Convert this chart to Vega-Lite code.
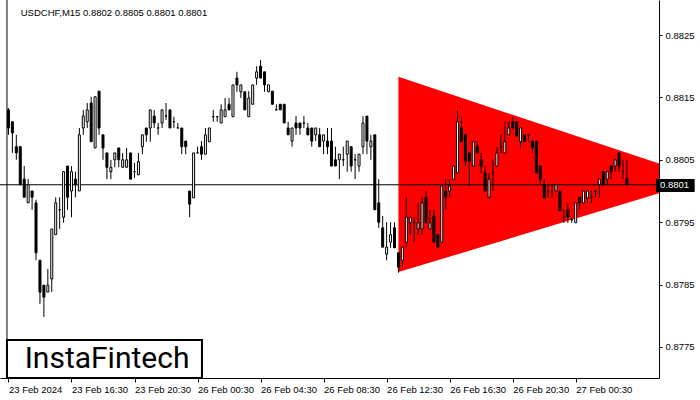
{
  "$schema": "https://vega.github.io/schema/vega-lite/v6.json",
  "width": 659,
  "height": 378,
  "autosize": "none",
  "padding": {"left": 0, "top": 0, "right": 41, "bottom": 22},
  "background": "white",
  "config": {"view": {"stroke": null}, "font": "Liberation Sans"},
  "datasets": {
    "tri": [
      {"i": 99, "top": 0.88183, "bot": 0.87870},
      {"i": 177.1, "top": 0.88019, "bot": 0.88019}
    ],
    "candles": [
      {"i":0,"o":0.88130,"h":0.88133,"l":0.88090,"c":0.88101},
      {"i":1,"o":0.88111,"h":0.88111,"l":0.88061,"c":0.88093},
      {"i":2,"o":0.88071,"h":0.88090,"l":0.88050,"c":0.88061},
      {"i":3,"o":0.88071,"h":0.88071,"l":0.88010,"c":0.88010},
      {"i":4,"o":0.88019,"h":0.88040,"l":0.87990,"c":0.87990},
      {"i":5,"o":0.87981,"h":0.88019,"l":0.87981,"c":0.88010},
      {"i":6,"o":0.88000,"h":0.88000,"l":0.87970,"c":0.87990},
      {"i":7,"o":0.87981,"h":0.87986,"l":0.87889,"c":0.87901},
      {"i":8,"o":0.87889,"h":0.87889,"l":0.87819,"c":0.87838},
      {"i":9,"o":0.87849,"h":0.87849,"l":0.87798,"c":0.87830},
      {"i":10,"o":0.87838,"h":0.87875,"l":0.87838,"c":0.87849},
      {"i":11,"o":0.87859,"h":0.87939,"l":0.87838,"c":0.87939},
      {"i":12,"o":0.87930,"h":0.87990,"l":0.87930,"c":0.87981},
      {"i":13,"o":0.87970,"h":0.87990,"l":0.87939,"c":0.87970},
      {"i":14,"o":0.87958,"h":0.88031,"l":0.87949,"c":0.88031},
      {"i":15,"o":0.88040,"h":0.88040,"l":0.87970,"c":0.87990},
      {"i":16,"o":0.88000,"h":0.88040,"l":0.87958,"c":0.88031},
      {"i":17,"o":0.88019,"h":0.88031,"l":0.87990,"c":0.88010},
      {"i":18,"o":0.88000,"h":0.88101,"l":0.88000,"c":0.88090},
      {"i":19,"o":0.88101,"h":0.88130,"l":0.88090,"c":0.88120},
      {"i":20,"o":0.88111,"h":0.88141,"l":0.88101,"c":0.88130},
      {"i":21,"o":0.88141,"h":0.88151,"l":0.88079,"c":0.88079},
      {"i":22,"o":0.88069,"h":0.88151,"l":0.88069,"c":0.88151},
      {"i":23,"o":0.88160,"h":0.88160,"l":0.88090,"c":0.88101},
      {"i":24,"o":0.88090,"h":0.88090,"l":0.88050,"c":0.88069},
      {"i":25,"o":0.88061,"h":0.88061,"l":0.88019,"c":0.88038},
      {"i":26,"o":0.88031,"h":0.88050,"l":0.88019,"c":0.88038},
      {"i":27,"o":0.88050,"h":0.88061,"l":0.88038,"c":0.88061},
      {"i":28,"o":0.88069,"h":0.88069,"l":0.88038,"c":0.88050},
      {"i":29,"o":0.88038,"h":0.88061,"l":0.88038,"c":0.88050},
      {"i":30,"o":0.88038,"h":0.88069,"l":0.88038,"c":0.88050},
      {"i":31,"o":0.88061,"h":0.88061,"l":0.88019,"c":0.88019},
      {"i":32,"o":0.88031,"h":0.88045,"l":0.88021,"c":0.88031},
      {"i":33,"o":0.88026,"h":0.88061,"l":0.88026,"c":0.88047},
      {"i":34,"o":0.88071,"h":0.88090,"l":0.88059,"c":0.88090},
      {"i":35,"o":0.88101,"h":0.88101,"l":0.88079,"c":0.88090},
      {"i":36,"o":0.88101,"h":0.88130,"l":0.88079,"c":0.88130},
      {"i":37,"o":0.88120,"h":0.88130,"l":0.88101,"c":0.88109},
      {"i":38,"o":0.88101,"h":0.88109,"l":0.88090,"c":0.88101},
      {"i":39,"o":0.88109,"h":0.88130,"l":0.88101,"c":0.88130},
      {"i":40,"o":0.88120,"h":0.88141,"l":0.88114,"c":0.88120},
      {"i":41,"o":0.88130,"h":0.88130,"l":0.88101,"c":0.88101},
      {"i":42,"o":0.88111,"h":0.88119,"l":0.88101,"c":0.88111},
      {"i":43,"o":0.88101,"h":0.88109,"l":0.88101,"c":0.88101},
      {"i":44,"o":0.88101,"h":0.88101,"l":0.88059,"c":0.88071},
      {"i":45,"o":0.88080,"h":0.88080,"l":0.88059,"c":0.88071},
      {"i":46,"o":0.88000,"h":0.88000,"l":0.87958,"c":0.87979},
      {"i":47,"o":0.87989,"h":0.88061,"l":0.87989,"c":0.88061},
      {"i":48,"o":0.88061,"h":0.88071,"l":0.88061,"c":0.88061},
      {"i":49,"o":0.88071,"h":0.88080,"l":0.88050,"c":0.88059},
      {"i":50,"o":0.88059,"h":0.88101,"l":0.88059,"c":0.88090},
      {"i":51,"o":0.88079,"h":0.88101,"l":0.88079,"c":0.88101},
      {"i":52,"o":0.88119,"h":0.88130,"l":0.88111,"c":0.88119},
      {"i":53,"o":0.88119,"h":0.88119,"l":0.88111,"c":0.88119},
      {"i":54,"o":0.88109,"h":0.88139,"l":0.88109,"c":0.88130},
      {"i":55,"o":0.88119,"h":0.88149,"l":0.88119,"c":0.88130},
      {"i":56,"o":0.88139,"h":0.88149,"l":0.88130,"c":0.88130},
      {"i":57,"o":0.88119,"h":0.88170,"l":0.88119,"c":0.88170},
      {"i":58,"o":0.88181,"h":0.88191,"l":0.88159,"c":0.88170},
      {"i":59,"o":0.88159,"h":0.88170,"l":0.88149,"c":0.88170},
      {"i":60,"o":0.88159,"h":0.88159,"l":0.88130,"c":0.88130},
      {"i":61,"o":0.88119,"h":0.88160,"l":0.88119,"c":0.88149},
      {"i":62,"o":0.88139,"h":0.88170,"l":0.88139,"c":0.88170},
      {"i":63,"o":0.88181,"h":0.88200,"l":0.88170,"c":0.88191},
      {"i":64,"o":0.88200,"h":0.88210,"l":0.88181,"c":0.88181},
      {"i":65,"o":0.88191,"h":0.88191,"l":0.88159,"c":0.88170},
      {"i":66,"o":0.88159,"h":0.88170,"l":0.88159,"c":0.88170},
      {"i":67,"o":0.88160,"h":0.88160,"l":0.88139,"c":0.88139},
      {"i":68,"o":0.88130,"h":0.88139,"l":0.88130,"c":0.88130},
      {"i":69,"o":0.88139,"h":0.88139,"l":0.88130,"c":0.88130},
      {"i":70,"o":0.88139,"h":0.88139,"l":0.88109,"c":0.88109},
      {"i":71,"o":0.88101,"h":0.88111,"l":0.88090,"c":0.88090},
      {"i":72,"o":0.88080,"h":0.88101,"l":0.88071,"c":0.88101},
      {"i":73,"o":0.88109,"h":0.88120,"l":0.88090,"c":0.88101},
      {"i":74,"o":0.88109,"h":0.88109,"l":0.88090,"c":0.88101},
      {"i":75,"o":0.88109,"h":0.88120,"l":0.88101,"c":0.88109},
      {"i":76,"o":0.88101,"h":0.88109,"l":0.88090,"c":0.88090},
      {"i":77,"o":0.88101,"h":0.88101,"l":0.88071,"c":0.88080},
      {"i":78,"o":0.88090,"h":0.88101,"l":0.88080,"c":0.88101},
      {"i":79,"o":0.88090,"h":0.88101,"l":0.88071,"c":0.88071},
      {"i":80,"o":0.88080,"h":0.88090,"l":0.88059,"c":0.88090},
      {"i":81,"o":0.88080,"h":0.88101,"l":0.88059,"c":0.88071},
      {"i":82,"o":0.88080,"h":0.88101,"l":0.88040,"c":0.88040},
      {"i":83,"o":0.88050,"h":0.88071,"l":0.88040,"c":0.88040},
      {"i":84,"o":0.88050,"h":0.88059,"l":0.88019,"c":0.88059},
      {"i":85,"o":0.88050,"h":0.88071,"l":0.88040,"c":0.88050},
      {"i":86,"o":0.88059,"h":0.88080,"l":0.88031,"c":0.88080},
      {"i":87,"o":0.88071,"h":0.88071,"l":0.88031,"c":0.88040},
      {"i":88,"o":0.88050,"h":0.88059,"l":0.88019,"c":0.88050},
      {"i":89,"o":0.88040,"h":0.88059,"l":0.88031,"c":0.88059},
      {"i":90,"o":0.88071,"h":0.88120,"l":0.88059,"c":0.88109},
      {"i":91,"o":0.88120,"h":0.88120,"l":0.88059,"c":0.88080},
      {"i":92,"o":0.88071,"h":0.88090,"l":0.88050,"c":0.88080},
      {"i":93,"o":0.88090,"h":0.88090,"l":0.87970,"c":0.87970},
      {"i":94,"o":0.87981,"h":0.88019,"l":0.87941,"c":0.87950},
      {"i":95,"o":0.87941,"h":0.87960,"l":0.87910,"c":0.87910},
      {"i":96,"o":0.87899,"h":0.87950,"l":0.87889,"c":0.87910},
      {"i":97,"o":0.87918,"h":0.87950,"l":0.87909,"c":0.87930},
      {"i":98,"o":0.87941,"h":0.87950,"l":0.87909,"c":0.87909},
      {"i":99,"o":0.87901,"h":0.87901,"l":0.87869,"c":0.87878},
      {"i":100,"o":0.87889,"h":0.87910,"l":0.87878,"c":0.87910},
      {"i":101,"o":0.87918,"h":0.87990,"l":0.87909,"c":0.87958},
      {"i":102,"o":0.87949,"h":0.87958,"l":0.87930,"c":0.87958},
      {"i":103,"o":0.87949,"h":0.87958,"l":0.87918,"c":0.87949},
      {"i":104,"o":0.87939,"h":0.87981,"l":0.87930,"c":0.87949},
      {"i":105,"o":0.87939,"h":0.87990,"l":0.87930,"c":0.87981},
      {"i":106,"o":0.87990,"h":0.88000,"l":0.87949,"c":0.87949},
      {"i":107,"o":0.87939,"h":0.87970,"l":0.87939,"c":0.87949},
      {"i":108,"o":0.87960,"h":0.87970,"l":0.87918,"c":0.87918},
      {"i":109,"o":0.87930,"h":0.87930,"l":0.87910,"c":0.87910},
      {"i":110,"o":0.87918,"h":0.88008,"l":0.87918,"c":0.88008},
      {"i":111,"o":0.88000,"h":0.88019,"l":0.87970,"c":0.87990},
      {"i":112,"o":0.88000,"h":0.88019,"l":0.87990,"c":0.88008},
      {"i":113,"o":0.88019,"h":0.88040,"l":0.88019,"c":0.88040},
      {"i":114,"o":0.88029,"h":0.88130,"l":0.88029,"c":0.88111},
      {"i":115,"o":0.88101,"h":0.88119,"l":0.88079,"c":0.88079},
      {"i":116,"o":0.88090,"h":0.88090,"l":0.88040,"c":0.88048},
      {"i":117,"o":0.88061,"h":0.88061,"l":0.88008,"c":0.88048},
      {"i":118,"o":0.88040,"h":0.88079,"l":0.88040,"c":0.88079},
      {"i":119,"o":0.88071,"h":0.88079,"l":0.88061,"c":0.88061},
      {"i":120,"o":0.88050,"h":0.88061,"l":0.88029,"c":0.88040},
      {"i":121,"o":0.88029,"h":0.88040,"l":0.88000,"c":0.88000},
      {"i":122,"o":0.87990,"h":0.88029,"l":0.87990,"c":0.88019},
      {"i":123,"o":0.88029,"h":0.88050,"l":0.88000,"c":0.88029},
      {"i":124,"o":0.88040,"h":0.88071,"l":0.88040,"c":0.88061},
      {"i":125,"o":0.88071,"h":0.88090,"l":0.88061,"c":0.88071},
      {"i":126,"o":0.88061,"h":0.88111,"l":0.88061,"c":0.88079},
      {"i":127,"o":0.88090,"h":0.88111,"l":0.88090,"c":0.88101},
      {"i":128,"o":0.88111,"h":0.88119,"l":0.88101,"c":0.88101},
      {"i":129,"o":0.88111,"h":0.88111,"l":0.88088,"c":0.88088},
      {"i":130,"o":0.88079,"h":0.88101,"l":0.88069,"c":0.88101},
      {"i":131,"o":0.88090,"h":0.88090,"l":0.88079,"c":0.88079},
      {"i":132,"o":0.88090,"h":0.88090,"l":0.88079,"c":0.88090},
      {"i":133,"o":0.88080,"h":0.88080,"l":0.88061,"c":0.88069},
      {"i":134,"o":0.88080,"h":0.88080,"l":0.88029,"c":0.88029},
      {"i":135,"o":0.88040,"h":0.88040,"l":0.88010,"c":0.88019},
      {"i":136,"o":0.88010,"h":0.88019,"l":0.87989,"c":0.87989},
      {"i":137,"o":0.88000,"h":0.88010,"l":0.87989,"c":0.88000},
      {"i":138,"o":0.88010,"h":0.88010,"l":0.87989,"c":0.88010},
      {"i":139,"o":0.88000,"h":0.88010,"l":0.88000,"c":0.88010},
      {"i":140,"o":0.88000,"h":0.88000,"l":0.87968,"c":0.87968},
      {"i":141,"o":0.87958,"h":0.87970,"l":0.87949,"c":0.87958},
      {"i":142,"o":0.87970,"h":0.87981,"l":0.87949,"c":0.87958},
      {"i":143,"o":0.87954,"h":0.87958,"l":0.87949,"c":0.87954},
      {"i":144,"o":0.87949,"h":0.87981,"l":0.87949,"c":0.87981},
      {"i":145,"o":0.87990,"h":0.87990,"l":0.87970,"c":0.87981},
      {"i":146,"o":0.87981,"h":0.88000,"l":0.87981,"c":0.88000},
      {"i":147,"o":0.87989,"h":0.88000,"l":0.87981,"c":0.88000},
      {"i":148,"o":0.87990,"h":0.88000,"l":0.87981,"c":0.87990},
      {"i":149,"o":0.88000,"h":0.88000,"l":0.87990,"c":0.88000},
      {"i":150,"o":0.88010,"h":0.88019,"l":0.87989,"c":0.88019},
      {"i":151,"o":0.88031,"h":0.88031,"l":0.88010,"c":0.88010},
      {"i":152,"o":0.88019,"h":0.88031,"l":0.88010,"c":0.88031},
      {"i":153,"o":0.88040,"h":0.88040,"l":0.88019,"c":0.88031},
      {"i":154,"o":0.88040,"h":0.88050,"l":0.88031,"c":0.88050},
      {"i":155,"o":0.88061,"h":0.88061,"l":0.88031,"c":0.88040},
      {"i":156,"o":0.88031,"h":0.88050,"l":0.88019,"c":0.88031},
      {"i":157,"o":0.88020,"h":0.88050,"l":0.88010,"c":0.88010}
    ]
  },
  "layer": [
    {
      "data": {"name": "tri"},
      "mark": {"type": "area", "color": "#ff0000", "opacity": 1, "clip": true},
      "encoding": {
        "x": {"field": "i", "type": "quantitative",
              "scale": {"domain": [-0.875, 163.875], "nice": false, "zero": false},
              "axis": {"orient": "bottom", "title": null, "grid": false,
                       "values": [0, 16, 32, 48, 64, 80, 96, 112, 128, 144],
                       "labelExpr": "['23 Feb 2024','23 Feb 16:30','23 Feb 20:30','26 Feb 00:30','26 Feb 04:30','26 Feb 08:30','26 Feb 12:30','26 Feb 16:30','26 Feb 20:30','27 Feb 00:30'][round(datum.value/16)]",
                       "labelAlign": "left", "labelBaseline": "top", "labelPadding": 2,
                       "tickSize": 4, "labelOverlap": false, "labelFlush": false,
                       "domainColor": "black", "tickColor": "black", "labelColor": "black",
                       "labelFont": "Liberation Sans", "labelFontSize": 9.5}},
        "y": {"field": "top", "type": "quantitative",
              "scale": {"domain": [0.877003, 0.883061], "nice": false, "zero": false},
              "axis": {"orient": "right", "title": null, "grid": false,
                       "values": [0.8775, 0.8785, 0.8795, 0.8805, 0.8815, 0.8825],
                       "format": ".4f", "tickSize": 3, "labelPadding": 3,
                       "labelBaseline": "middle",
                       "domainColor": "black", "tickColor": "black", "labelColor": "black",
                       "labelFont": "Liberation Sans", "labelFontSize": 9.5}},
        "y2": {"field": "bot"}
      }
    },
    {
      "data": {"values": [{}]},
      "mark": {"type": "rule", "color": "black", "strokeWidth": 1},
      "encoding": {"y": {"datum": 0.8801, "type": "quantitative"}}
    },
    {
      "data": {"values": [{}]},
      "mark": {"type": "rule", "color": "black", "strokeWidth": 1},
      "encoding": {"x": {"datum": -0.375, "type": "quantitative"}}
    },
    {
      "data": {"name": "candles"},
      "mark": {"type": "rule", "color": "black", "strokeWidth": 1},
      "encoding": {
        "x": {"field": "i", "type": "quantitative"},
        "y": {"field": "h", "type": "quantitative"},
        "y2": {"field": "l"}
      }
    },
    {
      "data": {"name": "candles"},
      "mark": {"type": "bar", "width": 2, "stroke": "black", "strokeWidth": 1},
      "encoding": {
        "x": {"field": "i", "type": "quantitative"},
        "y": {"field": "o", "type": "quantitative"},
        "y2": {"field": "c"},
        "fill": {"condition": {"test": "datum.c < datum.o", "value": "black"}, "value": "white"}
      }
    },
    {
      "data": {"values": [{}]},
      "mark": {"type": "rect", "fill": "white", "stroke": "black", "strokeWidth": 2},
      "encoding": {
        "x": {"datum": -0.375, "type": "quantitative"},
        "x2": {"datum": 49.125},
        "y": {"datum": 0.877612, "type": "quantitative"},
        "y2": {"datum": 0.877003}
      }
    },
    {
      "data": {"values": [{}]},
      "mark": {"type": "text", "text": "InstaFintech", "font": "Roboto", "fontSize": 30, "fontWeight": 400, "align": "left", "baseline": "middle", "color": "black"},
      "encoding": {
        "x": {"datum": 4.125, "type": "quantitative"},
        "y": {"datum": 0.87731, "type": "quantitative"}
      }
    },
    {
      "data": {"values": [{}]},
      "mark": {"type": "text", "text": "USDCHF,M15  0.8802 0.8805 0.8801 0.8801", "font": "Liberation Sans", "fontSize": 9.5, "align": "left", "baseline": "alphabetic", "color": "black"},
      "encoding": {
        "x": {"datum": 3.125, "type": "quantitative"},
        "y": {"datum": 0.882805, "type": "quantitative"}
      }
    },
    {
      "data": {"values": [{}]},
      "mark": {"type": "rect", "fill": "black"},
      "encoding": {
        "x": {"datum": 164.375, "type": "quantitative"},
        "x2": {"datum": 174.2},
        "y": {"datum": 0.880192, "type": "quantitative"},
        "y2": {"datum": 0.879984}
      }
    },
    {
      "data": {"values": [{}]},
      "mark": {"type": "text", "text": "0.8801", "font": "Liberation Sans", "fontSize": 9.5, "align": "left", "baseline": "middle", "color": "white"},
      "encoding": {
        "x": {"datum": 165.4, "type": "quantitative"},
        "y": {"datum": 0.8801, "type": "quantitative"}
      }
    }
  ]
}
